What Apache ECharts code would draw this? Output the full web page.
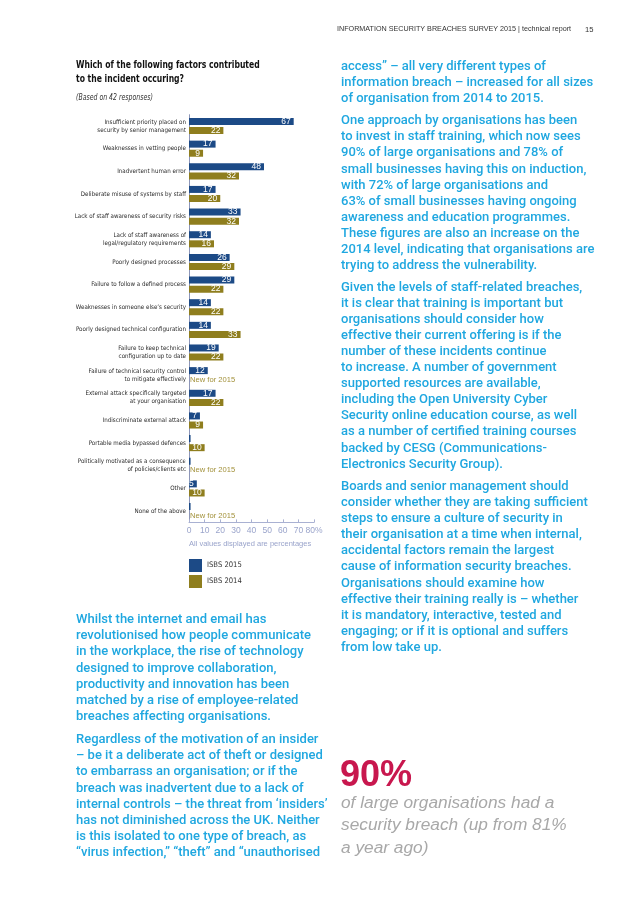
<!DOCTYPE html>
<html>
<head>
<meta charset="utf-8">
<script src="https://cdn.jsdelivr.net/npm/echarts@6/dist/echarts.min.js"></script>
<style>
html,body{margin:0;padding:0;background:#fff;}
#c{width:638px;height:902px;}
</style>
</head>
<body>
<div id="c"></div>
<script>
// ---- data ----
var categories = [
  'Insufficient priority placed on\nsecurity by senior management',
  'Weaknesses in vetting people',
  'Inadvertent human error',
  'Deliberate misuse of systems by staff',
  'Lack of staff awareness of security risks',
  'Lack of staff awareness of\nlegal/regulatory requirements',
  'Poorly designed processes',
  'Failure to follow a defined process',
  'Weaknesses in someone else\u2019s security',
  'Poorly designed technical configuration',
  'Failure to keep technical\nconfiguration up to date',
  'Failure of technical security control\nto mitigate effectively',
  'External attack specifically targeted\nat your organisation',
  'Indiscriminate external attack',
  'Portable media bypassed defences',
  'Politically motivated as a consequence\nof policies/clients etc',
  'Other',
  'None of the above'
];
var isbs2015 = [67, 17, 48, 17, 33, 14, 26, 29, 14, 14, 19, 12, 17, 7, 1, 1, 5, 1];
var isbs2014 = [22, 9, 32, 20, 32, 16, 29, 22, 22, 33, 22, null, 22, 9, 10, null, 10, null];
var xTicks = [0, 10, 20, 30, 40, 50, 60, 70, 80];

var NAVY = '#1c4a86', OLIVE = '#8f7e1e', OLIVE_TXT = '#a2913a', CYAN = '#1fa7e0';
var NARROW = "'Liberation Sans Narrow','DejaVu Sans Condensed',sans-serif";
var SANS = "'Liberation Sans',sans-serif";
var BODY = "Roboto,'Liberation Sans',sans-serif";

var data2014 = isbs2014.map(function (v) {
  if (v === null) {
    return { value: 0, label: { show: true, position: 'right', distance: 1, color: OLIVE_TXT,
      formatter: 'New for 2015', fontSize: 7.6, fontFamily: SANS } };
  }
  return v;
});

function para(x, y, lines, lh) {
  return { type: 'text', left: x, top: y - lh / 2, silent: true,
    style: { text: lines.join('\n'), fill: CYAN, fontFamily: BODY, fontWeight: 500, fontSize: 13, lineHeight: lh } };
}

var leftP1 = ['Whilst the internet and email has','revolutionised how people communicate','in the workplace, the rise of technology','designed to improve collaboration,','productivity and innovation has been','matched by a rise of employee-related','breaches affecting organisations.'];
var leftP2 = ['Regardless of the motivation of an insider','\u2013 be it a deliberate act of theft or designed','to embarrass an organisation; or if the','breach was inadvertent due to a lack of','internal controls \u2013 the threat from \u2018insiders\u2019','has not diminished across the UK. Neither','is this isolated to one type of breach, as','\u201cvirus infection,\u201d \u201ctheft\u201d and \u201cunauthorised'];
var rightP1 = ['access\u201d \u2013 all very different types of','information breach \u2013 increased for all sizes','of organisation from 2014 to 2015.'];
var rightP2 = ['One approach by organisations has been','to invest in staff training, which now sees','90% of large organisations and 78% of','small businesses having this on induction,','with 72% of large organisations and','63% of small businesses having ongoing','awareness and education programmes.','These figures are also an increase on the','2014 level, indicating that organisations are','trying to address the vulnerability.'];
var rightP3 = ['Given the levels of staff-related breaches,','it is clear that training is important but','organisations should consider how','effective their current offering is if the','number of these incidents continue','to increase. A number of government','supported resources are available,','including the Open University Cyber','Security online education course, as well','as a number of certified training courses','backed by CESG (Communications-','Electronics Security Group).'];
var rightP4 = ['Boards and senior management should','consider whether they are taking sufficient','steps to ensure a culture of security in','their organisation at a time when internal,','accidental factors remain the largest','cause of information security breaches.','Organisations should examine how','effective their training really is \u2013 whether','it is mandatory, interactive, tested and','engaging; or if it is optional and suffers','from low take up.'];

var chart = echarts.init(document.getElementById('c'), null, { renderer: 'canvas' });
chart.setOption({
  backgroundColor: '#fff',
  animation: false,
  grid: { left: 189, top: 114.7, width: 125, height: 407.7, containLabel: false },
  legend: {
    orient: 'vertical', left: 189, top: 559, padding: 0, itemWidth: 13, itemHeight: 13, itemGap: 3,
    icon: 'rect', data: ['ISBS 2015', 'ISBS 2014'],
    textStyle: { color: '#333', fontSize: 7.6, fontFamily: NARROW }
  },
  xAxis: {
    type: 'value', min: 0, max: 80, interval: 10,
    axisLine: { show: true, lineStyle: { color: '#a9b1d2', width: 1 } },
    axisTick: { show: true, inside: true, length: 3, lineStyle: { color: '#a9b1d2' } },
    splitLine: { show: false },
    axisLabel: { color: '#9aa4cb', fontSize: 8.5, margin: 4, fontFamily: SANS,
      customValues: xTicks,
      formatter: function (v) { return v === 80 ? '80%' : String(v); } }
  },
  yAxis: {
    type: 'category', data: categories, inverse: true,
    axisLine: { show: true, lineStyle: { color: '#8d96b8', width: 1 } },
    axisTick: { show: false },
    axisLabel: { color: '#2b2b2b', fontSize: 6.2, lineHeight: 8, margin: 3, fontFamily: NARROW, align: 'right' }
  },
  series: [
    { name: 'ISBS 2015', type: 'bar', data: isbs2015, barWidth: 7, barGap: '30%',
      itemStyle: { color: NAVY },
      label: { show: true, position: 'insideRight', distance: 3, color: '#fff', fontSize: 8.5, fontFamily: SANS } },
    { name: 'ISBS 2014', type: 'bar', data: data2014, barWidth: 7,
      itemStyle: { color: OLIVE },
      label: { show: true, position: 'insideRight', distance: 3, color: '#fff', fontSize: 8.5, fontFamily: SANS } }
  ],
  graphic: [
    { type: 'text', left: 337, top: 26, silent: true,
      style: { text: 'INFORMATION SECURITY BREACHES SURVEY 2015 | technical report', fill: '#333', fontSize: 7.2, fontFamily: SANS } },
    { type: 'text', left: 585, top: 26, silent: true,
      style: { text: '15', fill: '#333', fontSize: 7.6, fontFamily: SANS } },
    { type: 'text', x: 76, y: 58, scaleX: 0.79, scaleY: 1, originX: 0, originY: 0, silent: true,
      style: { x: 0, y: 0, text: 'Which of the following factors contributed\nto the incident occuring?', fill: '#111', fontWeight: 'bold', fontSize: 10.8, lineHeight: 14, fontFamily: NARROW } },
    { type: 'text', x: 76, y: 93, scaleX: 0.81, scaleY: 1, originX: 0, originY: 0, silent: true,
      style: { x: 0, y: 0, text: '(Based on 42 responses)', fill: '#333', fontStyle: 'italic', fontSize: 8.5, fontFamily: NARROW } },
    { type: 'text', left: 189, top: 540, silent: true,
      style: { text: 'All values displayed are percentages', fill: '#9aa4cb', fontSize: 7.5, fontFamily: SANS } },
    para(76, 620, leftP1, 16.1),
    para(76, 740, leftP2, 16.1),
    para(341, 66.7, rightP1, 16.1),
    para(341, 121, rightP2, 16.1),
    para(341, 287.3, rightP3, 16.1),
    para(341, 486.7, rightP4, 16.1),
    { type: 'text', left: 340, top: 758, silent: true,
      style: { text: '90%', fill: '#c8174e', fontWeight: 'bold', fontSize: 36, fontFamily: SANS } },
    { type: 'text', left: 341, top: 791.5, silent: true,
      style: { text: 'of large organisations had a\nsecurity breach (up from 81%\na year ago)', fill: '#a8a8a8', fontStyle: 'italic', fontSize: 17.3, lineHeight: 22.5, fontFamily: SANS } }
  ]
});
</script>
</body>
</html>
